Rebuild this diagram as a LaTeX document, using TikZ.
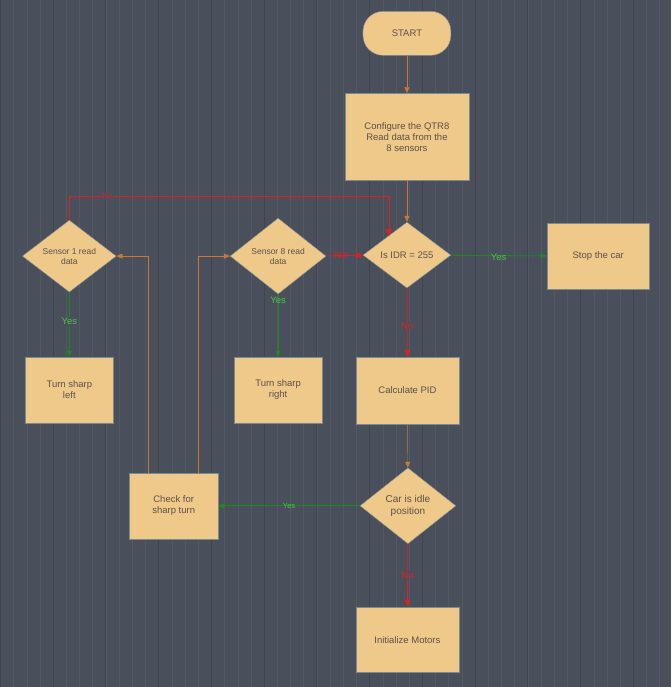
\documentclass[tikz,border=0pt]{standalone}
\usepackage{fontspec}
\setmainfont{Liberation Sans}
\usetikzlibrary{shapes.geometric,arrows.meta}
\definecolor{bg}{HTML}{4A505B}
\definecolor{gmin}{HTML}{535964}
\definecolor{gmaj}{HTML}{3F444D}
\definecolor{boxf}{HTML}{EEC98A}
\definecolor{boxd}{HTML}{7D8A8C}
\definecolor{txt}{HTML}{5F5048}
\definecolor{org}{HTML}{C8793A}
\definecolor{grn}{HTML}{1E8A1E}
\definecolor{lgrn}{HTML}{4CC04C}
\definecolor{rd}{HTML}{E02020}
\tikzset{
  base/.style={draw=boxd,fill=boxf,text=txt,font=\fontsize{9.5}{11}\selectfont,align=center,inner sep=0pt},
  proc/.style={base,rectangle,minimum width=#1,minimum height=66pt},
  dec/.style={base,diamond,aspect=1.3,inner sep=0pt},
  oa/.style={draw=org,-{Triangle[length=6pt,width=5pt]}},
  ga/.style={draw=grn,thick,-{Triangle[length=6pt,width=5pt]}},
  ra/.style={draw=rd,thick,-{Triangle[length=7pt,width=6pt]}},
  gl/.style={text=lgrn,font=\fontsize{9.5}{11}\selectfont,fill=bg,inner sep=1pt},
  rl/.style={text=rd,font=\fontsize{9.5}{11}\selectfont,fill=bg,inner sep=1pt}
}
\begin{document}
\begin{tikzpicture}[x=1pt,y=-1pt]
\fill[bg] (0,0) rectangle (671,687);
\draw[gmin,line width=0.4pt] (0,0) grid[step=13.2] (671,687);
\draw[gmaj,line width=0.8pt] (0,0) grid[step=52.8] (671,687);
\useasboundingbox (0,0) rectangle (671,687);
\node[base,rounded corners=20pt,minimum width=88pt,minimum height=44pt] (start) at (407,33) {START};
\node[proc=124pt,minimum height=87pt] (cfg) at (407,136.5) {Configure the QTR8\\Read data from the\\8 sensors};
\node[base,diamond,minimum width=88pt,minimum height=66pt] (idr) at (407,255) {Is IDR = 255};
\node[proc=103pt] (stop) at (598.5,256) {Stop the car};
\node[base,diamond,minimum width=96pt,minimum height=76pt,font=\fontsize{8.5}{10}\selectfont] (s8) at (278,256) {Sensor 8 read\\data};
\node[base,diamond,minimum width=94pt,minimum height=72pt,font=\fontsize{8.5}{10}\selectfont] (s1) at (69,256) {Sensor 1 read\\data};
\node[proc=88pt] (left) at (69,390) {Turn sharp\\left};
\node[proc=88pt] (right) at (278,390) {Turn sharp\\right};
\node[proc=103pt,minimum height=67pt] (pid) at (407.5,390.5) {Calculate PID};
\node[base,diamond,minimum width=96pt,minimum height=76pt,font=\fontsize{10}{12}\selectfont] (idle) at (408,506) {Car is idle\\position};
\node[proc=89pt] (chk) at (173.5,506) {Check for\\sharp turn};
\node[proc=103pt] (init) at (407.5,640) {Initialize Motors};
\draw[oa] (start) -- (cfg);
\draw[oa] (cfg) -- (idr);
\draw[ga] (idr) -- node[gl,fill=none,above=-6pt]{Yes} (stop);
\draw[ra] (idr) -- node[rl,pos=0.55]{No} (pid);
\draw[oa] (pid) -- (idle);
\draw[ra] (idle) -- node[rl]{No} (init);
\draw[ga] (idle) -- node[gl,font=\fontsize{7.5}{9}\selectfont,fill=none,above=-4pt]{Yes} (chk);
\draw[oa] (chk.north -| 148,0) |- (s1.east);
\draw[oa] (chk.north -| 198,0) |- (s8.west);
\draw[ra] (s8) -- node[rl,pos=0.4,fill=none]{No} (idr);
\draw[ga] (s8) -- node[gl,pos=0.1,fill=none]{Yes} (right);
\draw[ga] (s1) -- node[gl,pos=0.45]{Yes} (left);
\coordinate (c1) at (69,196);
\coordinate (c2) at (389,196);
\coordinate (c3) at (389,236);
\draw[rd,line width=0.6pt] (s1.north) -- (c1) -- node[rl,pos=0.12,font=\fontsize{7.5}{9}\selectfont]{No} (c2);
\draw[ra] (c2) -- (c3);
\end{tikzpicture}
\end{document}
